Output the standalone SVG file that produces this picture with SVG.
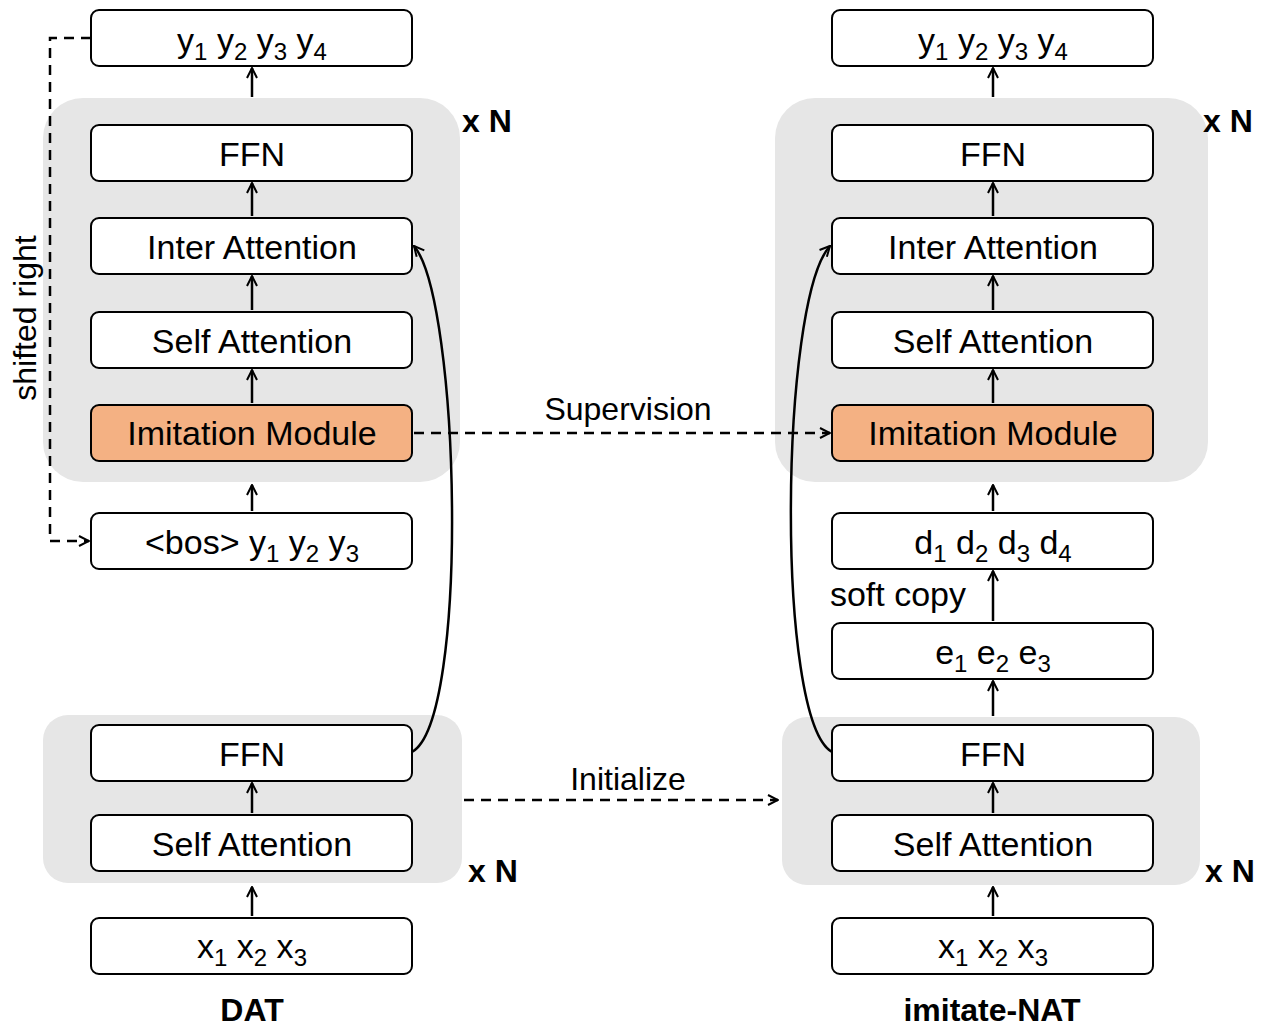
<svg xmlns="http://www.w3.org/2000/svg" width="1266" height="1030" viewBox="0 0 1266 1030">
<style>
.b{fill:#fff;stroke:#000;stroke-width:2}
.im{fill:#F4B183;stroke:#000;stroke-width:2}
.p{fill:#e6e6e6}
text{font-family:"Liberation Sans",Arial,sans-serif;fill:#000}
.t{font-size:34px;text-anchor:middle}
.s{font-size:24px}
.l{fill:none;stroke:#000;stroke-width:2.5}
.d{fill:none;stroke:#000;stroke-width:2.5;stroke-dasharray:10,7}
.bd{font-size:32px;font-weight:bold;text-anchor:middle}
</style>
<defs>
<marker id="a" viewBox="0 0 12 12" refX="11" refY="6" markerWidth="12" markerHeight="12" markerUnits="userSpaceOnUse" orient="auto"><path d="M1,1 L11,6 L1,11" fill="none" stroke="#000" stroke-width="2"/></marker>
</defs>
<rect class="p" x="43" y="98" width="417" height="384" rx="40"/>
<rect class="p" x="43" y="715" width="419" height="168" rx="25"/>
<rect class="p" x="775" y="98" width="433" height="384" rx="40"/>
<rect class="p" x="782" y="717" width="418" height="168" rx="25"/>
<g id="L-y"><rect class="b" x="91" y="10" width="321" height="56" rx="8"/><text class="t" x="252" y="52">y<tspan class="s" dy="8">1</tspan><tspan dy="-8">  y</tspan><tspan class="s" dy="8">2</tspan><tspan dy="-8">  y</tspan><tspan class="s" dy="8">3</tspan><tspan dy="-8">  y</tspan><tspan class="s" dy="8">4</tspan></text></g>
<g id="L-ffn"><rect class="b" x="91" y="125" width="321" height="56" rx="8"/><text class="t" x="252" y="166">FFN</text></g>
<g id="L-inter"><rect class="b" x="91" y="218" width="321" height="56" rx="8"/><text class="t" x="252" y="259">Inter Attention</text></g>
<g id="L-self"><rect class="b" x="91" y="312" width="321" height="56" rx="8"/><text class="t" x="252" y="353">Self Attention</text></g>
<g id="L-im"><rect class="im" x="91" y="405" width="321" height="56" rx="8"/><text class="t" x="252" y="445">Imitation Module</text></g>
<g id="L-bos"><rect class="b" x="91" y="513" width="321" height="56" rx="8"/><text class="t" x="252" y="554">&lt;bos&gt; y<tspan class="s" dy="8">1</tspan><tspan dy="-8"> y</tspan><tspan class="s" dy="8">2</tspan><tspan dy="-8"> y</tspan><tspan class="s" dy="8">3</tspan></text></g>
<g id="L-effn"><rect class="b" x="91" y="725" width="321" height="56" rx="8"/><text class="t" x="252" y="766">FFN</text></g>
<g id="L-eself"><rect class="b" x="91" y="815" width="321" height="56" rx="8"/><text class="t" x="252" y="856">Self Attention</text></g>
<g id="L-x"><rect class="b" x="91" y="918" width="321" height="56" rx="8"/><text class="t" x="252" y="958">x<tspan class="s" dy="8">1</tspan><tspan dy="-8">  x</tspan><tspan class="s" dy="8">2</tspan><tspan dy="-8">  x</tspan><tspan class="s" dy="8">3</tspan></text></g>
<g id="R-y"><rect class="b" x="832" y="10" width="321" height="56" rx="8"/><text class="t" x="993" y="52">y<tspan class="s" dy="8">1</tspan><tspan dy="-8">  y</tspan><tspan class="s" dy="8">2</tspan><tspan dy="-8"> y</tspan><tspan class="s" dy="8">3</tspan><tspan dy="-8">  y</tspan><tspan class="s" dy="8">4</tspan></text></g>
<g id="R-ffn"><rect class="b" x="832" y="125" width="321" height="56" rx="8"/><text class="t" x="993" y="166">FFN</text></g>
<g id="R-inter"><rect class="b" x="832" y="218" width="321" height="56" rx="8"/><text class="t" x="993" y="259">Inter Attention</text></g>
<g id="R-self"><rect class="b" x="832" y="312" width="321" height="56" rx="8"/><text class="t" x="993" y="353">Self Attention</text></g>
<g id="R-im"><rect class="im" x="832" y="405" width="321" height="56" rx="8"/><text class="t" x="993" y="445">Imitation Module</text></g>
<g id="R-d"><rect class="b" x="832" y="513" width="321" height="56" rx="8"/><text class="t" x="993" y="554">d<tspan class="s" dy="8">1</tspan><tspan dy="-8"> d</tspan><tspan class="s" dy="8">2</tspan><tspan dy="-8"> d</tspan><tspan class="s" dy="8">3</tspan><tspan dy="-8"> d</tspan><tspan class="s" dy="8">4</tspan></text></g>
<g id="R-e"><rect class="b" x="832" y="623" width="321" height="56" rx="8"/><text class="t" x="993" y="664">e<tspan class="s" dy="8">1</tspan><tspan dy="-8">  e</tspan><tspan class="s" dy="8">2</tspan><tspan dy="-8">  e</tspan><tspan class="s" dy="8">3</tspan></text></g>
<g id="R-effn"><rect class="b" x="832" y="725" width="321" height="56" rx="8"/><text class="t" x="993" y="766">FFN</text></g>
<g id="R-eself"><rect class="b" x="832" y="815" width="321" height="56" rx="8"/><text class="t" x="993" y="856">Self Attention</text></g>
<g id="R-x"><rect class="b" x="832" y="918" width="321" height="56" rx="8"/><text class="t" x="993" y="958">x<tspan class="s" dy="8">1</tspan><tspan dy="-8">  x</tspan><tspan class="s" dy="8">2</tspan><tspan dy="-8">  x</tspan><tspan class="s" dy="8">3</tspan></text></g>
<g id="connectors">
<path class="l" marker-end="url(#a)" d="M252,97 V68"/>
<path class="l" marker-end="url(#a)" d="M252,216 V183"/>
<path class="l" marker-end="url(#a)" d="M252,310 V276"/>
<path class="l" marker-end="url(#a)" d="M252,403 V370"/>
<path class="l" marker-end="url(#a)" d="M252,511 V485"/>
<path class="l" marker-end="url(#a)" d="M252,813 V783"/>
<path class="l" marker-end="url(#a)" d="M252,916 V887"/>
<path class="l" marker-end="url(#a)" d="M412,752 C470,720 460,300 414,246"/>
<path class="l" marker-end="url(#a)" d="M993,97 V68"/>
<path class="l" marker-end="url(#a)" d="M993,216 V183"/>
<path class="l" marker-end="url(#a)" d="M993,310 V276"/>
<path class="l" marker-end="url(#a)" d="M993,403 V370"/>
<path class="l" marker-end="url(#a)" d="M993,511 V485"/>
<path class="l" marker-end="url(#a)" d="M993,621 V571"/>
<path class="l" marker-end="url(#a)" d="M993,716 V681"/>
<path class="l" marker-end="url(#a)" d="M993,813 V783"/>
<path class="l" marker-end="url(#a)" d="M993,916 V887"/>
<path class="l" marker-end="url(#a)" d="M832,752 C775,720 780,300 830,246"/>
<path class="d" marker-end="url(#a)" d="M91,38 H50 V541 H89"/>
<path class="d" marker-end="url(#a)" d="M414,433 H830"/>
<path class="d" marker-end="url(#a)" d="M464,800 H778"/>
</g>
<text font-size="32" text-anchor="middle" transform="translate(36,318) rotate(-90)">shifted right</text>
<text font-size="32" text-anchor="middle" x="628" y="420">Supervision</text>
<text font-size="32" text-anchor="middle" x="628" y="790">Initialize</text>
<text font-size="34" text-anchor="middle" x="898" y="606">soft copy</text>
<text class="bd" x="487" y="132">x N</text>
<text class="bd" x="493" y="882">x N</text>
<text class="bd" x="1228" y="132">x N</text>
<text class="bd" x="1230" y="882">x N</text>
<text class="bd" x="252" y="1021" font-size="36">DAT</text>
<text class="bd" x="992" y="1021" font-size="36">imitate-NAT</text>
</svg>
